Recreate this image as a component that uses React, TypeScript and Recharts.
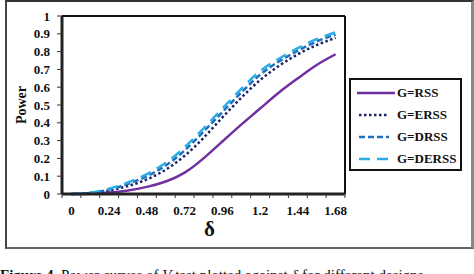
import React from "react"
import { LineChart, Line, XAxis, YAxis, ReferenceLine } from "recharts"

const DELTA = [0, 0.12, 0.24, 0.36, 0.48, 0.6, 0.72, 0.84, 0.96, 1.08, 1.2, 1.32, 1.44, 1.56, 1.68]
const X_LABELS = [0, 0.24, 0.48, 0.72, 0.96, 1.2, 1.44, 1.68]
const Y_TICKS = [0, 0.1, 0.2, 0.3, 0.4, 0.5, 0.6, 0.7, 0.8, 0.9, 1]

const RSS = [0, 0.002, 0.008, 0.02, 0.04, 0.07, 0.12, 0.2, 0.295, 0.39, 0.48, 0.57, 0.65, 0.725, 0.785]
const ERSS = [0, 0.005, 0.02, 0.045, 0.082, 0.137, 0.215, 0.315, 0.43, 0.54, 0.64, 0.72, 0.785, 0.837, 0.877]
const DRSS = [0, 0.006, 0.025, 0.057, 0.1, 0.16, 0.245, 0.35, 0.46, 0.57, 0.67, 0.745, 0.805, 0.857, 0.895]
const DERSS = [0, 0.008, 0.03, 0.065, 0.112, 0.175, 0.262, 0.368, 0.48, 0.59, 0.69, 0.76, 0.82, 0.87, 0.908]

const data = DELTA.map((d, i) => ({ delta: d, rss: RSS[i], erss: ERSS[i], drss: DRSS[i], derss: DERSS[i] }))

const series = [
  { key: "rss", name: "G=RSS", color: "#7030A0", dash: undefined },
  { key: "erss", name: "G=ERSS", color: "#1B2466", dash: "2.5 2.5" },
  { key: "drss", name: "G=DRSS", color: "#1F6FC0", dash: "6 3" },
  { key: "derss", name: "G=DERSS", color: "#29AEE6", dash: "11 7" },
]

const FONT = "'Liberation Serif', 'Times New Roman', serif"
const HALF_STEP = 283 * 0.06 / 1.8

function CatTick(props: any) {
  const { x, y, payload } = props
  const v = payload.value
  const isLast = v === DELTA[DELTA.length - 1]
  return (
    <g>
      <line x1={x - HALF_STEP} x2={x - HALF_STEP} y1={y} y2={y + 4} stroke="#333" strokeWidth={1} />
      {isLast && <line x1={x + HALF_STEP} x2={x + HALF_STEP} y1={y} y2={y + 4} stroke="#333" strokeWidth={1} />}
      {X_LABELS.includes(v) && (
        <text x={x} y={y + 21} textAnchor="middle" fontFamily={FONT} fontWeight="bold" fontSize={13} fill="#111">
          {String(v)}
        </text>
      )}
    </g>
  )
}

function LegendBox() {
  return (
    <div style={{ position: "absolute", left: 349, top: 78, border: "2px solid #111", width: 109, height: 87, background: "#fff", paddingTop: 2 }}>
      {series.map((s) => (
        <div key={s.key} style={{ display: "flex", alignItems: "center", height: 22 }}>
          <svg width={46} height={10}>
            <line x1={s.key === "rss" ? 6 : 8} x2={s.key === "rss" ? 44 : 38} y1={5} y2={5} stroke={s.color} strokeWidth={2.5} strokeDasharray={s.dash} />
          </svg>
          <span style={{ fontFamily: FONT, fontWeight: "bold", fontSize: 13, color: "#111" }}>{s.name}</span>
        </div>
      ))}
    </div>
  )
}

export default function App() {
  return (
    <div style={{ position: "absolute", left: 0, top: 0, width: 474, height: 274, background: "#fff", overflow: "hidden" }}>
      <div style={{ position: "absolute", left: 5, top: 0, width: 464, height: 245, borderTop: "2px solid #333", borderLeft: "2px solid #444", borderRight: "3px solid #888", borderBottom: "2px solid #666" }} />
      <div style={{ position: "absolute", left: 0, top: 0 }}>
        <LineChart width={474} height={248} data={data} margin={{ top: 16, right: 129, bottom: 10, left: 12 }}>
          <XAxis
            dataKey="delta"
            type="number"
            domain={[-0.06, 1.74]}
            ticks={DELTA}
            interval={0}
            tick={<CatTick />}
            tickLine={false}
            tickSize={0}
            tickMargin={0}
            height={44}
            axisLine={{ stroke: "#222", strokeWidth: 3 }}
            allowDataOverflow
            label={{
              content: (p: any) => {
                const vb = p.viewBox
                return (
                  <text x={vb.x + vb.width / 2 + 6} y={vb.y + vb.height - 2} textAnchor="middle" fontFamily={FONT} fontWeight="bold" fontSize={21} fill="#111">
                    δ
                  </text>
                )
              },
            }}
          />
          <YAxis
            type="number"
            domain={[0, 1]}
            ticks={Y_TICKS}
            interval={0}
            width={50}
            tickSize={5}
            tickMargin={7}
            tickLine={{ stroke: "#333" }}
            axisLine={{ stroke: "#222", strokeWidth: 3 }}
            tick={{ fontFamily: FONT, fontWeight: "bold", fontSize: 13, fill: "#111" }}
            tickFormatter={(v: number) => String(v)}
            label={{
              content: (p: any) => {
                const vb = p.viewBox
                const cx = 21
                const cy = vb.y + vb.height / 2
                return (
                  <text x={cx} y={cy} transform={`rotate(-90 ${cx} ${cy})`} textAnchor="middle" dominantBaseline="central" fontFamily={FONT} fontWeight="bold" fontSize={14} fill="#111">
                    Power
                  </text>
                )
              },
            }}
          />
          <ReferenceLine y={1} stroke="#111" strokeWidth={2} />
          <ReferenceLine x={1.74} stroke="#111" strokeWidth={2} />
          {series.map((s) => (
            <Line
              key={s.key}
              type="natural"
              dataKey={s.key}
              name={s.name}
              stroke={s.color}
              strokeWidth={2.5}
              strokeDasharray={s.dash}
              dot={false}
              activeDot={false}
              isAnimationActive={false}
            />
          ))}
        </LineChart>
      </div>
      <LegendBox />
      <div style={{ position: "absolute", left: 0, top: 268, fontFamily: FONT, fontSize: 15, lineHeight: "15px", color: "#111", whiteSpace: "nowrap" }}>
        <b>Figure 4</b>&nbsp;&nbsp;Power curves of <i>V</i> test plotted against <i>δ</i> for different designs
      </div>
    </div>
  )
}
